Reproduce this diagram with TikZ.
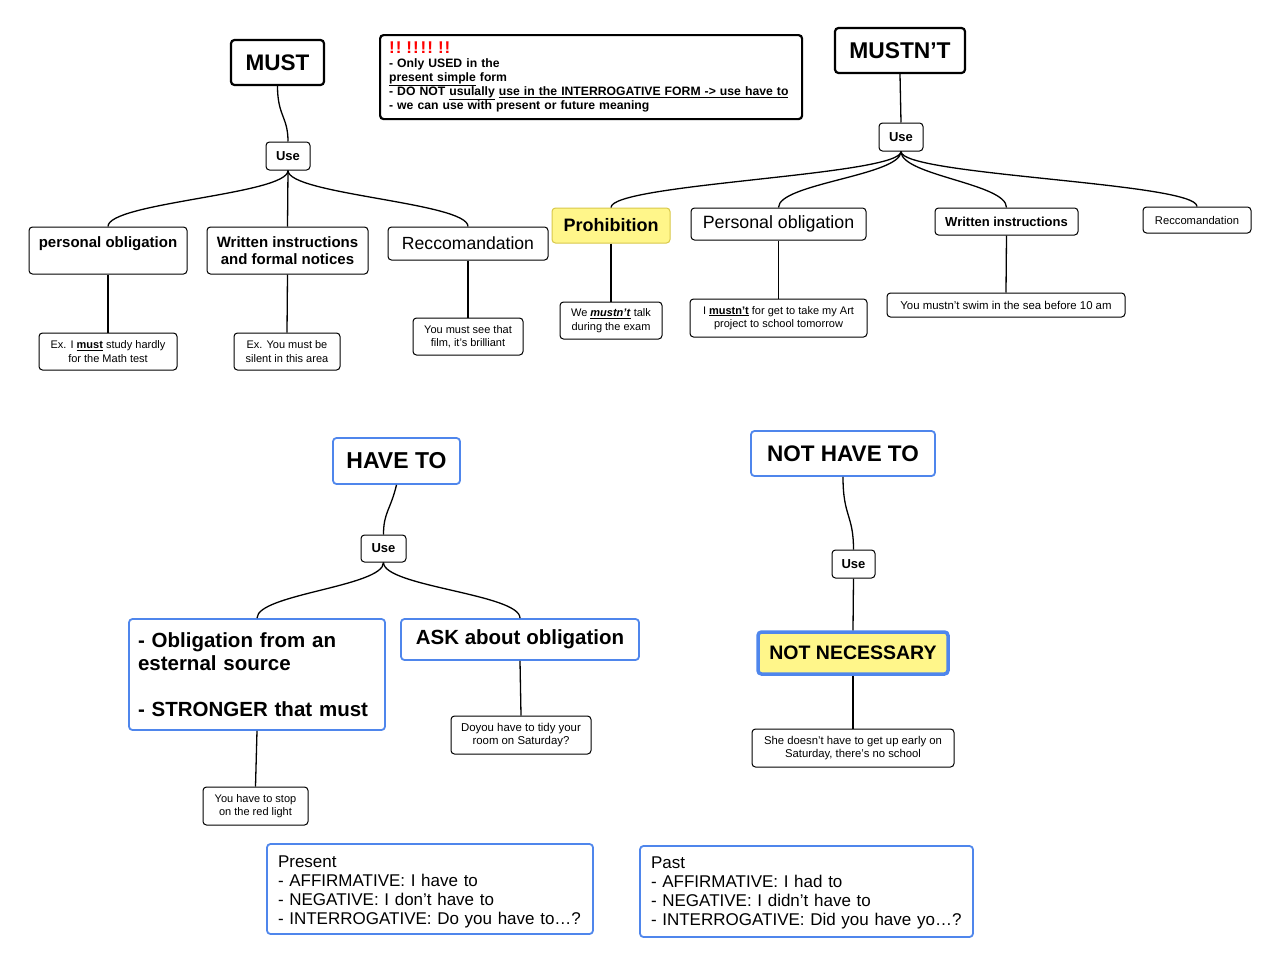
\documentclass[tikz,border=0pt]{standalone}
\usepackage{fontspec}
\setmainfont{Liberation Sans}
\usetikzlibrary{calc}
\definecolor{myblue}{HTML}{4F86EC}
\definecolor{myyel}{HTML}{FFF68A}
\definecolor{yelbord}{HTML}{D8C84A}
\newcommand\fs[2]{\fontsize{#1}{#2}\selectfont}
\tikzset{
  bx/.style={draw=black, line width=1pt, rounded corners=3.5pt, fill=white, inner sep=0pt, align=center},
  bxthick/.style={bx, line width=2.2pt},
  bxblue/.style={bx, draw=myblue, line width=1.8pt},
  conn/.style={line width=1.3pt},
  branch/.style={to path={.. controls ($(\tikztostart)+(0,24)$) and ($(\tikztotarget)+(0,-24)$) .. (\tikztotarget)}},
}
\begin{document}
\begin{tikzpicture}[x=1pt,y=-1pt]
\useasboundingbox[fill=white] (0,0) rectangle (1280,964);

% ---------------- MUST ----------------
\node[bxthick, minimum width=93, minimum height=45, font=\fs{22.5}{26}\bfseries] (must) at (277.5,62.5) {MUST};
\node[bx, minimum width=44, minimum height=28, font=\fs{13}{15}\bfseries] (use1) at (288,156) {Use};
\node[bx, minimum width=158, minimum height=47, font=\fs{15}{17}\bfseries] (po) at (108,250.5) {personal obligation\\\mbox{}};
\node[bx, minimum width=161, minimum height=47, font=\fs{15}{17}\bfseries] (wi) at (287.5,250.5) {Written instructions\\and formal notices};
\node[bx, minimum width=160, minimum height=33, font=\fs{17.6}{20}] (rec) at (468,243.5) {Reccomandation};
\node[bx, minimum width=138, minimum height=37, font=\fs{11}{13.5}] (ex1) at (108,351.5) {Ex. I \underline{\textbf{must}} study hardly\\for the Math test};
\node[bx, minimum width=106, minimum height=37, font=\fs{11}{13.5}] (ex2) at (287,351.5) {Ex. You must be\\silent in this area};
\node[bx, minimum width=110, minimum height=37, font=\fs{11}{13.5}] (ex3) at (468,336.5) {You must see that\\film, it’s brilliant};

\draw[conn] (must.south) .. controls ($(must.south)+(0,30)$) and ($(use1.north)+(0,-25)$) .. (use1.north);
\draw[conn] (use1.south) to[branch] (po.north);
\draw[conn] (use1.south) -- (wi.north);
\draw[conn] (use1.south) to[branch] (rec.north);
\draw[conn] (po.south) -- (ex1.north);
\draw[conn] (wi.south) -- (ex2.north);
\draw[conn] (rec.south) -- (ex3.north);

% ---------------- note ----------------
\node[bxthick, minimum width=422, minimum height=84, align=left, anchor=north west, inner xsep=9pt, inner ysep=4pt, text width=404, font=\fs{12.2}{14}\bfseries] (note) at (379,34)
{\textcolor{red}{\fs{17}{14}!\kern1pt!\hspace{5pt}!\kern1pt!\hspace{2pt}!\kern1pt!\hspace{5pt}!\kern1pt!}\\
- Only USED in the\\
\underline{present simple} form\\
- DO NOT \underline{usulally} \underline{use in the INTERROGATIVE FORM -> use have to}\\
- we can use with present or future meaning};

% ---------------- MUSTN'T ----------------
\node[bxthick, minimum width=130, minimum height=45, font=\fs{22.8}{26}\bfseries] (mustnt) at (900,50.5) {MUSTN’T};
\node[bx, minimum width=44, minimum height=28, font=\fs{13}{15}\bfseries] (use2) at (901,137) {Use};
\node[bx, draw=yelbord, fill=myyel, minimum width=118, minimum height=35, font=\fs{18}{20}\bfseries] (proh) at (611,225.5) {Prohibition};
\node[bx, minimum width=175, minimum height=32, font=\fs{17.8}{20}] (pers) at (778.5,224) {Personal obligation};
\node[bx, minimum width=143, minimum height=27, font=\fs{13}{15}\bfseries] (wri) at (1006.5,221.5) {Written instructions};
\node[bx, minimum width=108, minimum height=26, font=\fs{11.2}{13}] (rec2) at (1197,220) {Reccomandation};
\node[bx, minimum width=102, minimum height=37, font=\fs{11}{13.5}] (wm) at (611,320.5) {We \underline{\textbf{\textit{mustn’t}}} talk\\during the exam};
\node[bx, minimum width=177, minimum height=38, font=\fs{11}{13.5}] (im) at (778.5,318) {I \underline{\textbf{mustn’t}} for get to take my Art\\project to school tomorrow};
\node[bx, minimum width=238, minimum height=24, font=\fs{11.4}{13}] (ym) at (1006,305) {You mustn’t swim in the sea before 10 am};

\draw[conn] (mustnt.south) -- (use2.north);
\draw[conn] (use2.south) to[branch] (proh.north);
\draw[conn] (use2.south) to[branch] (pers.north);
\draw[conn] (use2.south) to[branch] (wri.north);
\draw[conn] (use2.south) to[branch] (rec2.north);
\draw[conn] (proh.south) -- (wm.north);
\draw[conn] (pers.south) -- (im.north);
\draw[conn] (wri.south) -- (ym.north);

% ---------------- HAVE TO ----------------
\node[bxblue, minimum width=127, minimum height=46, font=\fs{23}{26}\bfseries] (have) at (396.5,461) {HAVE TO};
\node[bx, minimum width=45, minimum height=27, font=\fs{13}{15}\bfseries] (use3) at (383.5,548.5) {Use};
\node[bxblue, minimum width=256, minimum height=111, align=left, text width=238, font=\fs{20.5}{23}\bfseries] (obl) at (257,674.5)
{- Obligation from an\\esternal source\\[23pt]- STRONGER that must};
\node[bxblue, minimum width=238, minimum height=41, font=\fs{20.5}{23}\bfseries] (ask) at (520,639.5) {ASK about obligation};
\node[bx, minimum width=105, minimum height=38, font=\fs{11}{13.5}] (stop) at (255.5,806) {You have to stop\\on the red light};
\node[bx, minimum width=140, minimum height=38, font=\fs{11.4}{13.5}] (tidy) at (521,735) {Doyou have to tidy your\\room on Saturday?};

\draw[conn] (have.south) .. controls ($(have.south)+(-6,25)$) and ($(use3.north)+(0,-22)$) .. (use3.north);
\draw[conn] (use3.south) to[branch] (obl.north);
\draw[conn] (use3.south) to[branch] (ask.north);
\draw[conn] (obl.south) -- (stop.north);
\draw[conn] (ask.south) -- (tidy.north);

% ---------------- NOT HAVE TO ----------------
\node[bxblue, minimum width=184, minimum height=45, font=\fs{22.5}{26}\bfseries] (nht) at (843,453.5) {NOT HAVE TO};
\node[bx, minimum width=43, minimum height=28, font=\fs{13}{15}\bfseries] (use4) at (853.5,564) {Use};
\node[bx, draw=myblue, fill=myyel, line width=3.5pt, minimum width=190, minimum height=42, font=\fs{19.5}{23}\bfseries] (nn) at (853,653) {NOT NECESSARY};
\node[bx, minimum width=202, minimum height=38, font=\fs{11.3}{13.5}] (she) at (853,748) {She doesn’t have to get up early on\\Saturday, there’s no school};

\draw[conn] (nht.south) .. controls ($(nht.south)+(0,40)$) and ($(use4.north)+(0,-35)$) .. (use4.north);
\draw[conn] (use4.south) -- (nn.north);
\draw[conn] (nn.south) -- (she.north);

% ---------------- Present / Past ----------------
\node[bxblue, minimum width=326, minimum height=90, align=left, text width=304, font=\fs{17}{19}] (pres) at (430,889)
{\rule{0pt}{18.5pt}Present\\- AFFIRMATIVE: I have to\\- NEGATIVE: I don’t have to\\- INTERROGATIVE: Do you have to…?};
\node[bxblue, minimum width=333, minimum height=91, align=left, text width=311, font=\fs{17}{19}] (past) at (806.5,891.5)
{\rule{0pt}{15.5pt}Past\\- AFFIRMATIVE: I had to\\- NEGATIVE: I didn’t have to\\- INTERROGATIVE: Did you have yo…?};

\end{tikzpicture}
\end{document}
